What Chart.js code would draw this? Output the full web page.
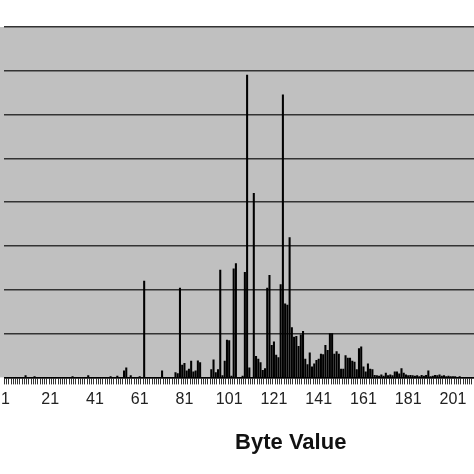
<!DOCTYPE html>
<html>
<head>
<meta charset="utf-8">
<script src="https://cdn.jsdelivr.net/npm/chart.js@4"></script>
<style>
  body { margin: 0; background: #fff; overflow: hidden; }
  #wrap { position: absolute; left: -5px; top: 0; width: 587px; height: 474px; }
</style>
</head>
<body>
<div id="wrap"><canvas id="myChart"></canvas></div>
<script>
// byte values 1..256
const byteLabels = [];
for (let i = 1; i <= 256; i++) byteLabels.push(String(i));

// bar heights (one per byte) in gridline units
const counts = [
  0,0,0,0,0,0,0,0,0,0.04,0,0,0,0.02,0,0,
  0,0,0,0,0,0,0,0,0,0,0,0,0,0,0.02,0,
  0,0,0,0,0,0.04,0,0,0,0,0,0,0,0,0,0.02,
  0,0,0.03,0,0,0.15,0.22,0,0.04,0,0,0,0.02,0,2.2,0,
  0,0,0,0,0,0,0.15,0,0,0,0,0,0.11,0.09,2.04,0.28,
  0.32,0.15,0.19,0.37,0.13,0.15,0.38,0.34,0,0,0,0,0.18,0.4,0.11,0.18,
  2.45,0.04,0.37,0.85,0.84,0.03,2.48,2.6,0,0,0.03,2.4,6.9,0.22,0,4.2,
  0.48,0.42,0.34,0.16,0.2,2.04,2.33,0.73,0.81,0.51,0.45,2.12,6.45,1.68,1.65,3.19,
  1.14,0.92,0.94,0.71,0.97,1.05,0.42,0.29,0.56,0.24,0.31,0.39,0.42,0.53,0.52,0.73,
  0.62,1.0,1.0,0.53,0.59,0.53,0.19,0.19,0.5,0.44,0.44,0.37,0.35,0.18,0.66,0.7,
  0.24,0.13,0.31,0.19,0.18,0.05,0.04,0.03,0.06,0.03,0.1,0.04,0.06,0.04,0.13,0.13,
  0.08,0.2,0.1,0.06,0.04,0.05,0.04,0.03,0.04,0.02,0.05,0.03,0.05,0.15,0.02,0.03,
  0.05,0.04,0.06,0.03,0.04,0.02,0.03,0.02,0.02,0.02,0,0.02,0,0,0,0,
  0,0,0,0,0,0,0,0,0,0,0,0,0,0,0,0,
  0,0,0,0,0,0,0,0,0,0,0,0,0,0,0,0,
  0,0,0,0,0,0,0,0,0,0,0,0,0,0,0,0
];

// fill the plot area grey
const plotBg = {
  id: 'plotBg',
  beforeDraw(chart) {
    const a = chart.chartArea;
    const ctx = chart.ctx;
    ctx.save();
    ctx.fillStyle = '#c0c0c0';
    ctx.fillRect(0, a.top, chart.width, a.bottom - a.top);
    ctx.restore();
  }
};

new Chart('myChart', {
  type: 'bar',
  data: {
    labels: byteLabels,
    datasets: [{
      data: counts,
      backgroundColor: '#000',
      barThickness: 1.4
    }]
  },
  options: {
    responsive: true,
    maintainAspectRatio: false,
    animation: false,
    plugins: { legend: { display: false }, tooltip: { enabled: false } },
    layout: { padding: { top: 27, left: 0, right: 0, bottom: 14 } },
    scales: {
      x: {
        grid: { drawOnChartArea: false, tickLength: 7, color: '#333', lineWidth: 1 },
        border: { color: '#000', width: 1.5 },
        ticks: {
          autoSkip: false,
          maxRotation: 0,
          padding: 6,
          color: '#222',
          font: { family: 'Arial, "Liberation Sans"', size: 16 },
          callback: function (v, i) { return (i % 20 === 0) ? byteLabels[i] : ''; }
        },
        title: {
          display: true,
          text: 'Byte Value',
          color: '#111',
          padding: { top: 14 },
          font: { family: 'Arial, "Liberation Sans"', size: 22, weight: 'bold' }
        }
      },
      y: {
        min: 0,
        max: 8,
        afterFit: function (s) { s.width = 0; },
        ticks: { display: false, stepSize: 1 },
        grid: { color: '#333', lineWidth: 1.5, drawTicks: false },
        border: { display: false }
      }
    }
  },
  plugins: [plotBg]
});
</script>
</body>
</html>
